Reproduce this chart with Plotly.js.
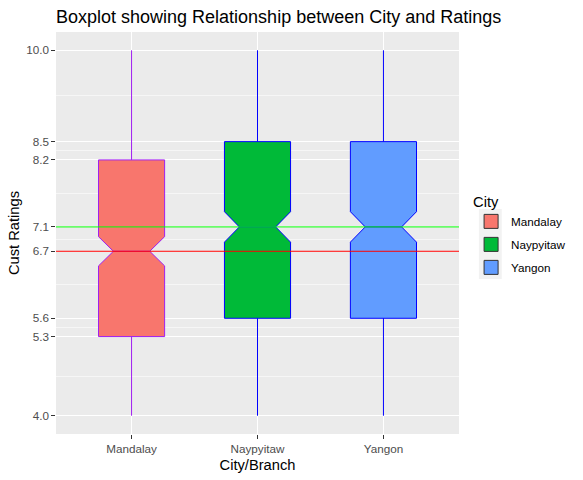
<!DOCTYPE html>
<html>
<head>
<meta charset="utf-8">
<script src="https://cdn.plot.ly/plotly-3.0.1.min.js"></script>
<style>
  html, body { margin: 0; padding: 0; background: white; }
  #chart { width: 583px; height: 480px; }
</style>
</head>
<body>
<div id="chart"></div>
<script>
// Values
const cities = ['Mandalay', 'Naypyitaw', 'Yangon'];
const lowerFence = [4.0, 4.0, 4.0];
const q1 = [5.3, 5.6, 5.6];
const medians = [6.7, 7.1, 7.1];
const q3 = [8.2, 8.5, 8.5];
const upperFence = [10.0, 10.0, 10.0];
const notchSpan = [0.24, 0.25, 0.25];

const fillColors = ['#F8766D', '#00BA38', '#619CFF'];
const outlineColors = ['#A020F0', '#0000FF', '#0000FF'];

const yTicks = [4.0, 5.3, 5.6, 6.7, 7.1, 8.2, 8.5, 10.0];
const yMinorTicks = [4.65, 5.45, 6.15, 6.9, 7.65, 8.35, 9.25];

// reference lines: overall mean (green) and median (red)
const refLines = [7.1, 6.7];
const refColors = ['#00FF00', '#FF0000'];

const traces = [];
cities.forEach((city, i) => {
    traces.push({
        type: 'box',
        name: city,
        x: [city],
        q1: [q1[i]],
        median: [medians[i]],
        q3: [q3[i]],
        lowerfence: [lowerFence[i]],
        upperfence: [upperFence[i]],
        notchspan: [notchSpan[i]],
        notched: true,
        notchwidth: 0.225,
        whiskerwidth: 0,
        boxpoints: false,
        fillcolor: fillColors[i],
        line: { color: outlineColors[i], width: 1 },
        hoverinfo: 'skip',
        showlegend: false
    });
});

// legend keys only (grey outline like ggplot's key glyphs)
cities.forEach((city, i) => {
    traces.push({
        type: 'scatter',
        mode: 'markers',
        name: city,
        x: [null],
        y: [null],
        legendgroup: city,
        marker: { symbol: 'square', size: 14, color: fillColors[i], line: { color: '#333333', width: 1 } },
        showlegend: true
    });
});

const shapes = refLines.map((v, i) => ({
    type: 'line',
    xref: 'paper',
    x0: 0,
    x1: 1,
    yref: 'y',
    y0: v,
    y1: v,
    layer: 'above',
    line: { color: refColors[i], width: 1 }
}));

// grey key background behind the legend glyphs
shapes.push({
    type: 'rect',
    xref: 'paper', yref: 'paper',
    x0: (481 - 56) / 405, x1: (504 - 56) / 405,
    y0: (434 - 279) / 402, y1: (434 - 209) / 402,
    layer: 'below',
    fillcolor: '#F2F2F2',
    line: { width: 0 }
});

const layout = {
    width: 583,
    height: 480,
    paper_bgcolor: 'white',
    plot_bgcolor: '#EBEBEB',
    font: { family: 'Liberation Sans, Arial, sans-serif', color: 'black' },
    margin: { l: 56, r: 122, t: 32, b: 46, pad: 0 },
    title: {
        text: 'Boxplot showing Relationship between City and Ratings',
        font: { size: 18, color: 'black' },
        x: 0,
        xref: 'paper',
        xanchor: 'left',
        y: 1 - 17 / 480,
        yref: 'container',
        yanchor: 'middle'
    },
    boxmode: 'overlay',
    boxgap: 0.25,
    xaxis: {
        type: 'category',
        range: [-0.6, 2.6],
        showgrid: true,
        gridcolor: 'white',
        gridwidth: 1.07,
        zeroline: false,
        showline: false,
        ticks: 'outside',
        ticklen: 3.7,
        tickcolor: '#333333',
        tickwidth: 1.07,
        tickfont: { size: 11.7, color: '#4D4D4D' },
        title: { text: 'City/Branch', font: { size: 14.7, color: 'black' }, standoff: 5 }
    },
    yaxis: {
        range: [3.7, 10.3],
        tickmode: 'array',
        tickvals: yTicks,
        ticktext: yTicks.map(v => v.toFixed(1)),
        showgrid: true,
        gridcolor: 'white',
        gridwidth: 1.07,
        zeroline: false,
        showline: false,
        ticks: 'outside',
        ticklen: 3.7,
        tickcolor: '#333333',
        tickwidth: 1.07,
        tickfont: { size: 11.7, color: '#4D4D4D' },
        minor: {
            tickmode: 'array',
            tickvals: yMinorTicks,
            showgrid: true,
            gridcolor: 'white',
            gridwidth: 0.53,
            ticks: ''
        },
        title: { text: 'Cust Ratings', font: { size: 14.7, color: 'black' }, standoff: 3 }
    },
    shapes: shapes,
    showlegend: true,
    legend: {
        x: 1.03,
        xanchor: 'left',
        y: 0.6125,
        yanchor: 'top',
        bgcolor: 'rgba(0,0,0,0)',
        traceorder: 'grouped',
        tracegroupgap: 4,
        font: { size: 11.7, color: 'black' },
        title: { text: 'City', font: { size: 14.7, color: 'black' } }
    }
};

Plotly.newPlot('chart', traces, layout, { displayModeBar: false, staticPlot: true });
</script>
</body>
</html>
